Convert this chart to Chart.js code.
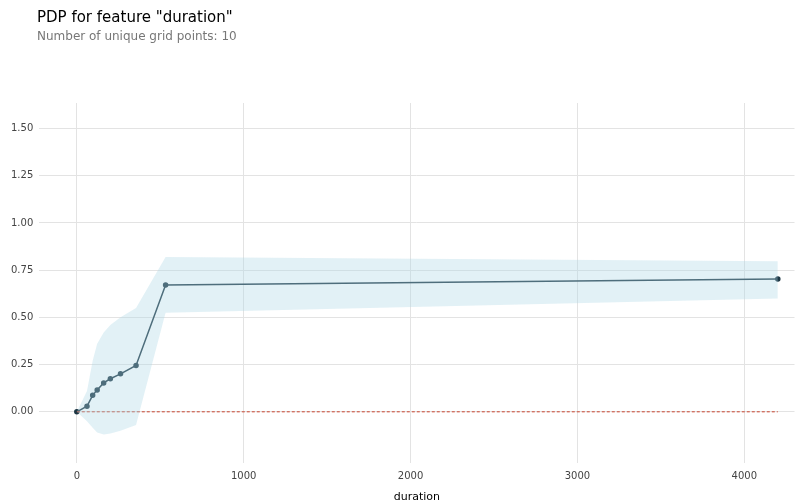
<!DOCTYPE html><html><head><script src="https://cdn.jsdelivr.net/npm/chart.js@4"></script>
<style>body{margin:0;background:#fff}#w{width:800px;height:504px}</style></head><body><div id="w"><canvas id="c"></canvas></div>
<script>
const titleText='PDP for feature "duration"';
const subtitleText='Number of unique grid points: 10';
const gridX=[0,61,95,122,161,201,262,355,532,4201];
const pdp=[0,0.03,0.087,0.116,0.153,0.175,0.201,0.245,0.672,0.703];
const upper=[0,0.11,0.27,0.36,0.42,0.46,0.50,0.55,0.82,0.797];
const lower=[0,-0.05,-0.085,-0.11,-0.12,-0.115,-0.10,-0.07,0.525,0.6];
const xTicks=[0,1000,2000,3000,4000];
const yTicks=[0,0.25,0.5,0.75,1,1.25,1.5];
const pts=a=>a.map((v,i)=>({x:gridX[i],y:v}));
const titles={id:'titles',afterDraw(c){const x=c.ctx;x.save();x.textBaseline='alphabetic';
x.fillStyle='#000';x.font='15px "DejaVu Sans"';x.fillText(titleText,37,22);
x.fillStyle='#777';x.font='12px "DejaVu Sans"';x.fillText(subtitleText,37,40);x.restore();}};
new Chart(document.getElementById('c'),{type:'scatter',plugins:[titles],data:{datasets:[
{data:pts(upper),showLine:true,pointRadius:0,borderWidth:0,backgroundColor:'rgba(173,216,230,0.35)',fill:'+1'},
{data:pts(lower),showLine:true,pointRadius:0,borderWidth:0,fill:false},
{data:[{x:0,y:0},{x:4201,y:0}],showLine:true,pointRadius:0,borderColor:'#c8452f',borderWidth:1,borderDash:[3,2]},
{data:pts(pdp),showLine:true,pointRadius:2,borderColor:'#1c3644',backgroundColor:'#1c3644',borderWidth:1.5}
]},options:{responsive:true,maintainAspectRatio:false,animation:false,
layout:{padding:{left:5,right:0,top:103,bottom:0}},
plugins:{legend:{display:false},tooltip:{enabled:false}},
scales:{x:{type:'linear',min:-225,max:4301,border:{display:false},grid:{color:'#e3e3e3',drawTicks:false},
afterBuildTicks:s=>{s.ticks=xTicks.map(v=>({value:v}))},
ticks:{color:'#444',font:{family:'DejaVu Sans',size:10},padding:8,callback:v=>String(v)},
title:{display:true,text:'duration',color:'#000',font:{family:'DejaVu Sans',size:11},padding:{top:0,bottom:0}}},
y:{min:-0.27,max:1.635,border:{display:false},grid:{color:'#e3e3e3',drawTicks:false},
afterBuildTicks:s=>{s.ticks=yTicks.map(v=>({value:v}))},
ticks:{color:'#444',font:{family:'DejaVu Sans',size:10},padding:6,callback:v=>v.toFixed(2)}}}}});
</script></body></html>
